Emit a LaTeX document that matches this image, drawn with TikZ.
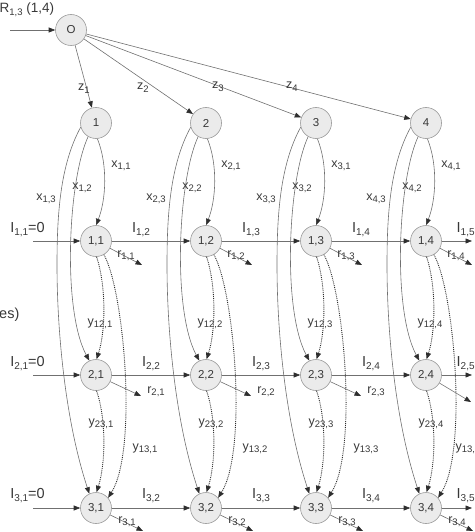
\documentclass[tikz,border=0pt]{standalone}
\usepackage{fontspec}
\setmainfont{Liberation Sans}
\usetikzlibrary{arrows.meta}
\definecolor{linec}{HTML}{707070}
\definecolor{tipc}{HTML}{2E2E2E}
\definecolor{nodefill}{HTML}{EBEBEB}
\definecolor{nodedraw}{HTML}{9A9A9A}
\definecolor{txt}{HTML}{383838}
\newcommand\lb[2]{{\fontsize{12.5}{14}\selectfont #1\raisebox{-0.45ex}{\fontsize{9.5}{11}\selectfont #2}}}
\newcommand\Il[2]{{\fontsize{14.5}{16}\selectfont I\raisebox{-0.45ex}{\fontsize{10}{12}\selectfont #1}#2}}
\begin{document}
\begin{tikzpicture}[x=1pt,y=-1pt,
  st/.style={circle,draw=nodedraw,fill=nodefill,line width=0.6pt,minimum size=31pt,inner sep=0pt,font=\fontsize{11.5}{13}\selectfont,text=txt},
  arr/.style={draw=linec,line width=0.6pt,-{Triangle[length=6.5pt,width=5pt,color=tipc]}},
  dotarr/.style={draw=tipc,line width=0.9pt,densely dotted,-{Triangle[length=6.5pt,width=5pt,color=tipc]}},
  lab/.style={inner sep=0pt,text=txt,anchor=base},
]
\useasboundingbox (0,0) rectangle (474,532);

% top part
\node[lab,anchor=base west] (R) at (-0.5,12.7) {{\fontsize{13.5}{15}\selectfont R\raisebox{-0.45ex}{\fontsize{9.5}{11}\selectfont 1,3} (1,4)}};
\node[lab,anchor=base west] (es) at (-1,318) {{\fontsize{14.5}{16}\selectfont es)}};
\node[st] (O) at (71,30) {O};
\coordinate (inO) at (10,30);
\draw[arr] (inO) -- (O);

\foreach \k in {1,...,4}{
  \pgfmathsetmacro\cx{96+110*(\k-1)}
  \node[st] (t\k) at (\cx,123) {\k};
  \node[st] (r1c\k) at (\cx,241) {1,\k};
  \node[st] (r2c\k) at (\cx,375) {2,\k};
  \node[st] (r3c\k) at (\cx,508) {3,\k};
}

% z arcs
\foreach \k in {1,...,4}{ \draw[arr] (O) -- (t\k); }
\node[lab] (z1) at (84,91) {\lb{z}{1}};
\node[lab] (z2) at (143,90) {\lb{z}{2}};
\node[lab] (z3) at (218,89) {\lb{z}{3}};
\node[lab] (z4) at (292,89) {\lb{z}{4}};

% rows: inventory arcs
\foreach \r/\yy/\bl in {1/241/232,2/375/366,3/508/498}{
  \coordinate (in\r) at (33,\yy);
  \coordinate (out\r) at (472,\yy);
  \draw[arr] (in\r) -- (r\r c1);
  \draw[arr] (r\r c4) -- (out\r);
  \node[lab] (I\r1) at (27.5,\bl) {\Il{\r,1}{=0}};
  \node[lab,anchor=base west] (I\r5) at (456.5,\bl) {\Il{\r,5}{}};
}
\foreach \r/\bl/\dx in {1/232/-10,2/366/0,3/498/0}{
  \foreach \k/\kk in {1/2,2/3,3/4}{
    \pgfmathsetmacro\mx{96+110*(\k-1)+55+\dx}
    \draw[arr] (r\r c\k) -- (r\r c\kk);
    \node[lab] (I\r\kk) at (\mx,\bl) {\Il{\r,\kk}{}};
  }
}

% columns
\foreach \k/\yoff in {1/49,2/49,3/50,4/42}{
  \pgfmathsetmacro\cx{96+110*(\k-1)}
  % x arcs
  \draw[arr] (t\k.-85) .. controls ({\cx+12},165) and ({\cx+10},200) .. (r1c\k.north);
  \draw[arr] (t\k.-120) .. controls ({\cx-28},180) and ({\cx-34},310) .. (r2c\k.115);
  \draw[arr] (t\k.-165) .. controls ({\cx-36},165) and ({\cx-39},215) .. ({\cx-39},265)
     .. controls ({\cx-39},330) and ({\cx-31},420) .. (r3c\k.115);
  \node[lab] (x\k1) at ({\cx+25},167) {\lb{x}{\k,1}};
  \node[lab] (x\k2) at ({\cx-14},189) {\lb{x}{\k,2}};
  \node[lab] (x\k3) at ({\cx-50},200) {\lb{x}{\k,3}};
  % y arcs
  \draw[dotarr] (r1c\k.-88) .. controls ({\cx+10},285) and ({\cx+10},330) .. (r2c\k.88);
  \draw[dotarr] (r2c\k.-88) .. controls ({\cx+10},418) and ({\cx+10},462) .. (r3c\k.88);
  \draw[dotarr] (r1c\k.-60) .. controls ({\cx+28},290) and ({\cx+42},450) .. (r3c\k.40);
  \node[lab] (y12\k) at ({\cx+4},325) {\lb{y}{12,\k}};
  \node[lab] (y23\k) at ({\cx+5},425) {\lb{y}{23,\k}};
  \node[lab] (y13\k) at ({\cx+\yoff},450) {\lb{y}{13,\k}};
  % r arcs
  \coordinate (rt1\k) at ({\cx+46},265);
  \coordinate (rt3\k) at ({\cx+47},531);
  \draw[arr] (r1c\k) -- (rt1\k);
  \draw[arr] (r3c\k) -- (rt3\k);
  \node[lab] (rl1\k) at ({\cx+30},257) {\lb{r}{1,\k}};
  \node[lab] (rl3\k) at ({\cx+31},523) {\lb{r}{3,\k}};
}
% row 2 outflows
\foreach \k/\ty in {1/396,2/396,3/396,4/402}{
  \pgfmathsetmacro\cx{96+110*(\k-1)}
  \coordinate (rt2\k) at ({\cx+45},\ty);
  \draw[arr] (r2c\k) -- (rt2\k);
}
\foreach \k in {1,2,3}{
  \pgfmathsetmacro\cx{96+110*(\k-1)}
  \node[lab] (rl2\k) at ({\cx+60},393) {\lb{r}{2,\k}};
}
\end{tikzpicture}
\end{document}
